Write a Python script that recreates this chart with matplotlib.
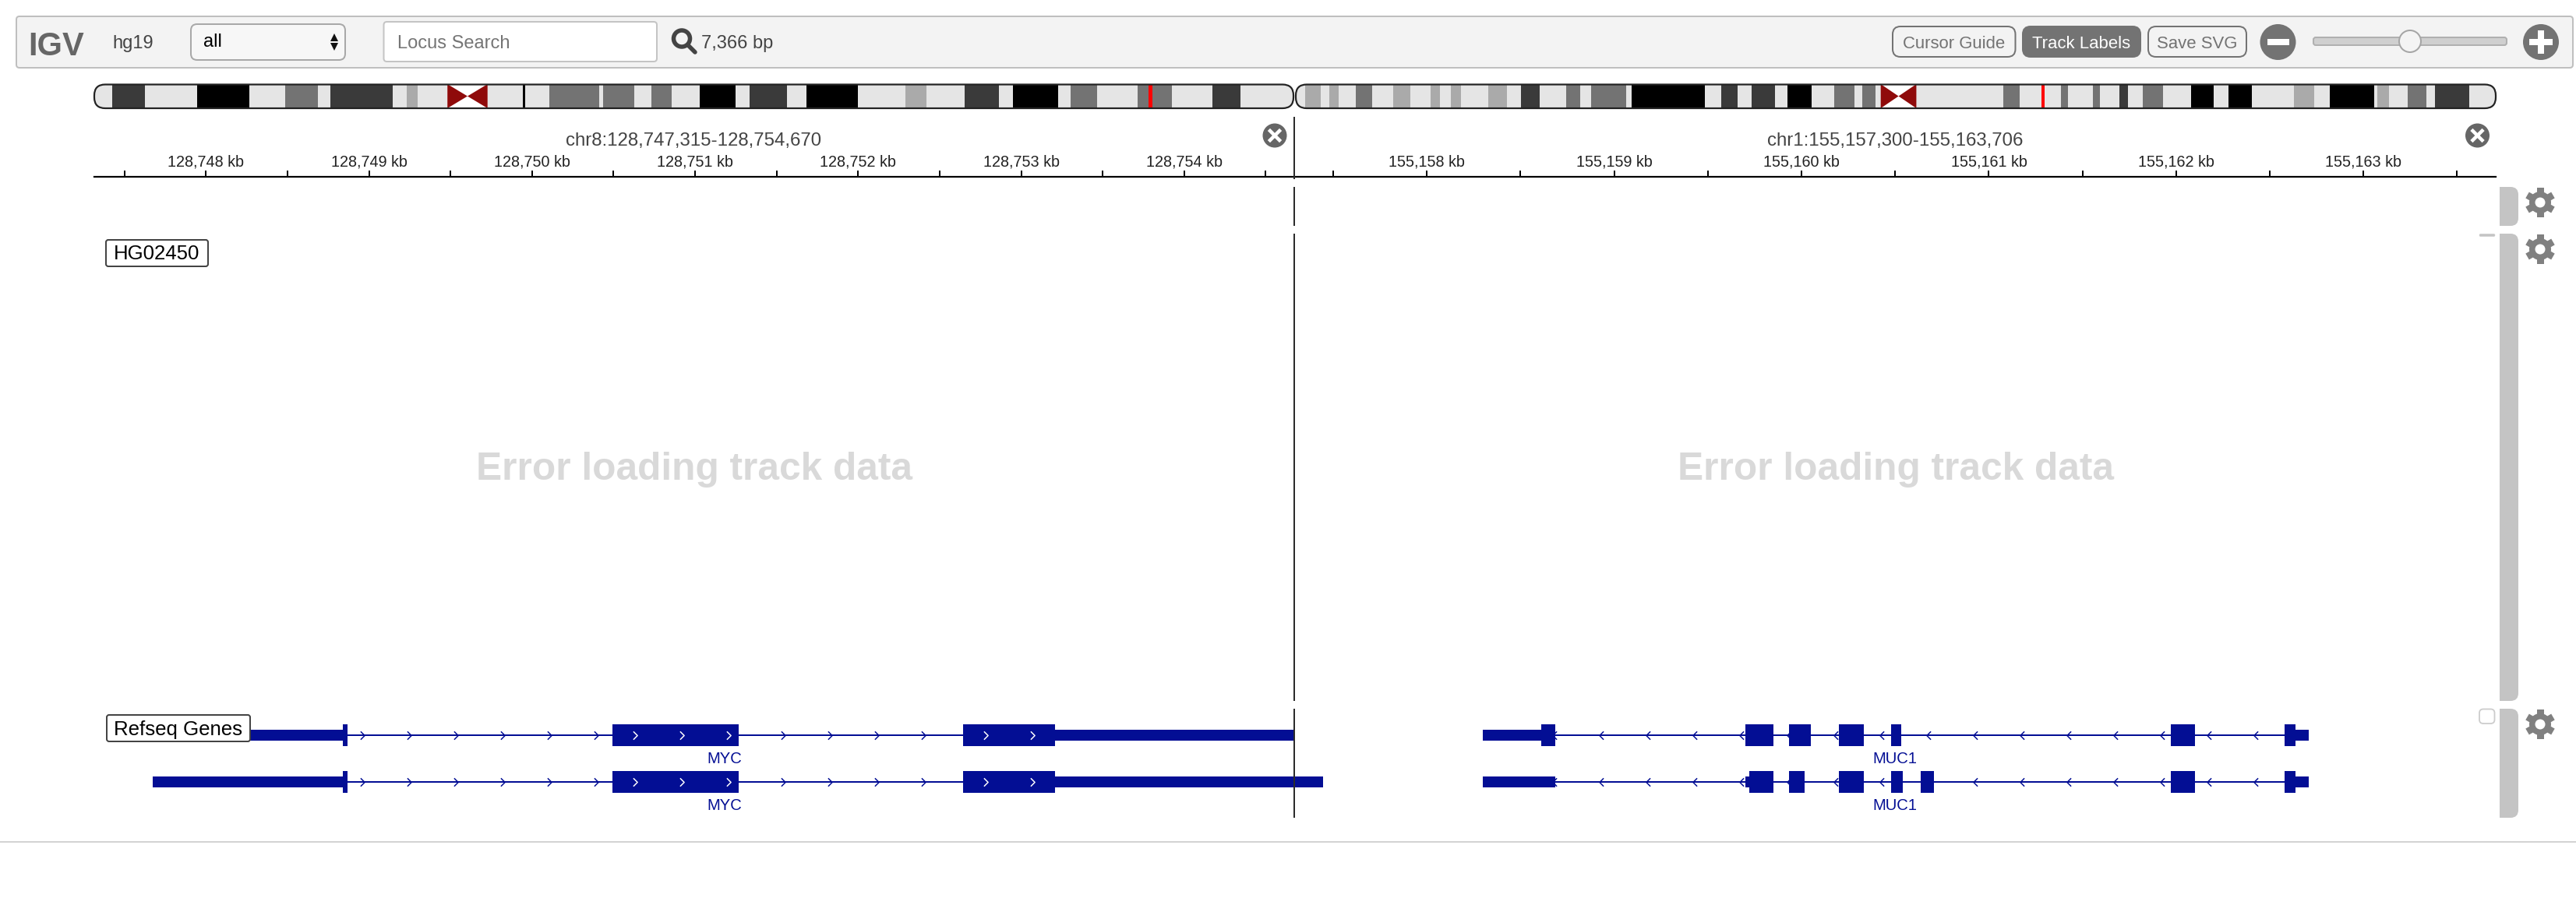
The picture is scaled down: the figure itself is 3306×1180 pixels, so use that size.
import matplotlib
matplotlib.use("Agg")

from matplotlib import pyplot as plt
from matplotlib.patches import Circle, FancyBboxPatch, Rectangle
from matplotlib.path import Path
from matplotlib.ticker import FuncFormatter, MultipleLocator
from matplotlib.transforms import Affine2D

plt.rcParams['font.family'] = ['Liberation Sans', 'DejaVu Sans']

W, H = 3306, 1180
PT = 0.72  # one pixel in points at dpi 100

BLUE = '#030e94'
STAIN_COLORS = {'gneg': '#e5e5e5', 'gpos25': '#aaaaaa', 'gpos50': '#737373',
                'gpos75': '#3a3a3a', 'gpos100': '#000000', 'acen': '#ffffff',
                'locus': '#ff0000'}

# ideogram bands, Mb
CHR8_ENDS = [2.2, 6.2, 12.6, 18.9, 23.3, 27.3, 28.8, 36.4, 38.1, 39.5, 43.1, 48.0,
             52.3, 52.6, 55.5, 61.6, 62.1, 65.9, 68.0, 70.5, 73.9, 78.3, 80.0, 84.5,
             86.9, 93.2, 99.0, 101.6, 106.2, 110.4, 112.1, 117.6, 119.2, 122.4,
             127.3, 128.7, 129.1, 131.5, 136.5, 139.9, 146.36]
CHR8_STAINS = ['gneg', 'gpos75', 'gneg', 'gpos100', 'gneg', 'gpos50', 'gneg', 'gpos75',
               'gneg', 'gpos25', 'gneg', 'acen', 'gneg', 'gpos100', 'gneg', 'gpos50',
               'gneg', 'gpos50', 'gneg', 'gpos50', 'gneg', 'gpos100', 'gneg', 'gpos75',
               'gneg', 'gpos100', 'gneg', 'gpos25', 'gneg', 'gpos75', 'gneg', 'gpos100',
               'gneg', 'gpos50', 'gneg', 'gpos50', 'locus', 'gpos50', 'gneg', 'gpos75',
               'gneg']
CHR1_ENDS = [2.0, 5.15, 7.0, 8.9, 12.4, 15.9, 20.25, 23.8, 28.0, 29.9, 32.2, 34.3, 40.0,
             43.9, 46.7, 50.7, 56.1, 59.1, 61.3, 68.7, 69.7, 84.96, 88.3, 91.8, 94.7,
             99.6, 102.1, 107.1, 111.8, 116.0, 117.6, 120.4, 121.5, 128.9, 147.0, 150.3,
             154.9, 155.6, 159.0, 160.4, 165.5, 167.1, 171.0, 172.9, 176.0, 180.2, 185.9,
             190.7, 193.7, 198.6, 207.3, 211.5, 214.7, 224.0, 224.7, 227.0, 230.9, 234.8,
             236.7, 243.8, 249.25]
CHR1_STAINS = ['gneg', 'gpos25', 'gneg', 'gpos25', 'gneg', 'gpos50', 'gneg', 'gpos25',
               'gneg', 'gpos25', 'gneg', 'gpos25', 'gneg', 'gpos25', 'gneg', 'gpos75',
               'gneg', 'gpos50', 'gneg', 'gpos50', 'gneg', 'gpos100', 'gneg', 'gpos75',
               'gneg', 'gpos75', 'gneg', 'gpos100', 'gneg', 'gpos50', 'gneg', 'gpos50',
               'gneg', 'acen', 'gneg', 'gpos50', 'gneg', 'locus', 'gneg', 'gpos50',
               'gneg', 'gpos50', 'gneg', 'gpos75', 'gneg', 'gpos50', 'gneg', 'gpos100',
               'gneg', 'gpos100', 'gneg', 'gpos25', 'gneg', 'gpos100', 'gneg', 'gpos25',
               'gneg', 'gpos50', 'gneg', 'gpos75', 'gneg']
CHR8_CEN = [43.1, 48.0]
CHR1_CEN = [121.5, 128.9]

# loci
CHR8_LOCUS = [128747315, 128754670]
CHR1_LOCUS = [155157300, 155163706]

# MYC transcripts
MYC_A_EXONS = [(128747900, 128748869), (128750494, 128751265), (128752642, 128754670)]
MYC_B_EXONS = [(128747673, 128748869), (128750494, 128751265), (128752642, 128754853)]
MYC_CDS = (128748840, 128753209)
MYC_INTRON_ARROWS = [128748959, 128749246, 128749533, 128749820, 128750107, 128750393,
                     128751538, 128751827, 128752114, 128752401]
MYC_EXON_ARROWS = [128750632, 128750919, 128751206, 128752781, 128753070]
MYC_LABEL_POS = 128751180

# MUC1 transcripts
MUC1_A_EXONS = [(155158300, 155158685), (155159700, 155159850), (155159933, 155160050),
                (155160199, 155160332), (155160480, 155160532), (155161971, 155162100),
                (155162579, 155162706)]
MUC1_A_CDS = (155158610, 155162637)
MUC1_B_EXONS = [(155158300, 155158685), (155159700, 155159850), (155159933, 155160016),
                (155160199, 155160332), (155160480, 155160540), (155160638, 155160707),
                (155161971, 155162100), (155162579, 155162706)]
MUC1_B_CDS = (155159723, 155162637)
MUC1_A_ARROWS = [155158681, 155158931, 155159180, 155159430, 155159679, 155159933,
                 155160183, 155160428, 155160678, 155160927, 155161177, 155161426,
                 155161676, 155161926, 155162175, 155162425]
MUC1_B_ARROWS = [155158681, 155158931, 155159180, 155159430, 155159679, 155159933,
                 155160183, 155160428, 155160927, 155161177, 155161426, 155161676,
                 155161926, 155162175, 155162425]
MUC1_LABEL_POS = 155160499

RIGHT_ARROW = Path([(-0.5, -1), (0.5, 0), (-0.5, 1)])
LEFT_ARROW = Path([(0.5, -1), (-0.5, 0), (0.5, 1)])

fig = plt.figure(figsize=(W / 100, H / 100), dpi=100)


def draw_transcript(ax, y, exons, cds, name, label_pos):
    ax.plot([exons[0][1], exons[-1][0]], [y, y], color=BLUE, lw=2 * PT, clip_on=False,
            solid_capstyle='butt', zorder=2)
    for start, end in exons:
        bars = ax.bar(start, 14, width=end - start, bottom=y - 7, align='edge',
                      color=BLUE, linewidth=0, zorder=3)
        bars[0].set_clip_on(False)
        tall_start, tall_end = max(start, cds[0]), min(end, cds[1])
        if tall_end > tall_start:
            tall = ax.bar(tall_start, 28, width=tall_end - tall_start, bottom=y - 14,
                          align='edge', color=BLUE, linewidth=0, zorder=3)
            tall[0].set_clip_on(False)
    ax.text(label_pos, y + 30.5, name, color=BLUE, fontsize=14.6, ha='center', va='center')


def draw_arrows(ax, y, positions, marker, color):
    ax.plot(positions, [y] * len(positions), ls='none', marker=marker, ms=7.5, mfc='none',
            mec=color, mew=1.5 * PT, zorder=4, clip_on=False)


def track_panel(x0, x1, locus):
    ax = fig.add_axes([x0 / W, 0, (x1 - x0) / W, (H - 226.7) / H], zorder=1)
    ax.set_xlim(*locus)
    ax.set_ylim(H, 226.7)
    ax.patch.set_alpha(0)
    for side in ('left', 'right', 'bottom'):
        ax.spines[side].set_visible(False)
    ax.spines['top'].set_linewidth(2.2 * PT)
    ax.set_yticks([])
    ax.xaxis.tick_top()
    ax.xaxis.set_major_locator(MultipleLocator(1000))
    ax.xaxis.set_minor_locator(MultipleLocator(500))
    ax.xaxis.set_major_formatter(FuncFormatter(lambda v, p: f"{int(round(v / 1000)):,} kb"))
    ax.tick_params(axis='x', which='both', direction='out', length=8 * PT, width=2 * PT)
    ax.tick_params(axis='x', which='major', labelsize=14.2, pad=1.2, labelcolor='#222222')
    return ax


def ideogram(x0, x1, ends, stains, cen, outline):
    ax = fig.add_axes([x0 / W, 1 - 139 / H, (x1 - x0) / W, 31 / H], zorder=1)
    ax.set_xlim(0, ends[-1])
    ax.set_ylim(0, 1)
    ax.axis('off')
    starts = [0] + ends[:-1]
    bars = ax.barh(0.5, [e - s for s, e in zip(starts, ends)], left=starts, height=1,
                   color=[STAIN_COLORS[s] for s in stains], linewidth=0)
    for bar in bars:
        bar.set_clip_path(outline)
    mid = (cen[0] + cen[1]) / 2
    ax.fill([cen[0], cen[0], mid], [0, 1, 0.5], color='#8f0a0a', linewidth=0)
    ax.fill([cen[1], cen[1], mid], [0, 1, 0.5], color='#8f0a0a', linewidth=0)


# overlay in pixel units for the browser controls
ui = fig.add_axes([0, 0, 1, 1], zorder=3)
ui.set_xlim(0, W)
ui.set_ylim(H, 0)
ui.axis('off')
ui.patch.set_alpha(0)


def rbox(x0, y0, x1, y1, r, fc, ec, lw=2.0, z=2):
    box = FancyBboxPatch((x0, y0), x1 - x0, y1 - y0, boxstyle=f"round,pad=0,rounding_size={r}",
                         fc=fc, ec=ec, lw=lw * PT, zorder=z)
    ui.add_patch(box)
    return box


def gear(x, y):
    ui.add_patch(Circle((x, y), 14, fc='#808080', ec='none', zorder=3))
    for a in range(6):
        t = Affine2D().rotate_deg_around(x, y, a * 60) + ui.transData
        ui.add_patch(Rectangle((x - 4.5, y - 19), 9, 10, fc='#808080', ec='none', transform=t, zorder=3))
    ui.add_patch(Circle((x, y), 6.5, fc='white', ec='none', zorder=4))


def close_icon(x, y):
    ui.add_patch(Circle((x, y), 15.5, fc='#666666', ec='none', zorder=3))
    ui.plot([x - 6, x + 6], [y - 6, y + 6], color='white', lw=4.5 * PT, zorder=4)
    ui.plot([x - 6, x + 6], [y + 6, y - 6], color='white', lw=4.5 * PT, zorder=4)


def scrollbar(y0, y1):
    rbox(3208, y0, 3232, y1, 10, '#c4c4c4', 'none', lw=0)
    ui.add_patch(Rectangle((3208, y0), 12, y1 - y0, fc='#c4c4c4', ec='none', zorder=2))


# toolbar
rbox(21, 21, 3302, 87, 4, '#f3f3f3', '#bfbfbf', z=1)
ui.text(36, 60, 'IGV', fontsize=30, fontweight='bold', color='#666666', va='center')
ui.text(144, 56, 'hg19', fontsize=17, color='#444444', va='center')
rbox(245, 31, 443, 77, 8, '#f7f7f7', '#a8a8a8')
ui.text(261, 54, 'all', fontsize=17, color='black', va='center', zorder=3)
ui.plot([428.5], [48], marker='^', ms=7.5, color='#111111', mew=0, zorder=3)
ui.plot([428.5], [60], marker='v', ms=7.5, color='#111111', mew=0, zorder=3)
rbox(492.5, 28, 843, 79, 4, 'white', '#c4c4c4')
ui.text(510, 56, 'Locus Search', fontsize=17, color='#757575', va='center', zorder=3)
ui.add_patch(Circle((875, 49.5), 10.5, fc='none', ec='#444444', lw=5.5 * PT, zorder=3))
ui.plot([883, 892], [58, 67], color='#444444', lw=5.5 * PT, solid_capstyle='round', zorder=3)
ui.text(900, 56, '7,366 bp', fontsize=17, color='#444444', va='center')

rbox(2429, 34, 2586.5, 73, 10, '#f3f3f3', '#737373')
ui.text(2508, 56, 'Cursor Guide', fontsize=15.9, color='#737373', ha='center', va='center', zorder=3)
rbox(2596, 34, 2747, 73, 10, '#737373', '#737373')
ui.text(2671.5, 56, 'Track Labels', fontsize=15.9, color='white', ha='center', va='center', zorder=3)
rbox(2757, 34, 2883, 73, 10, '#f3f3f3', '#737373')
ui.text(2820, 56, 'Save SVG', fontsize=15.9, color='#737373', ha='center', va='center', zorder=3)

ui.add_patch(Circle((2923.5, 54), 23, fc='#737373', ec='none', zorder=3))
ui.add_patch(Rectangle((2909.5, 50), 28, 8, fc='white', ec='none', zorder=4))
rbox(2969, 48, 3217, 58, 3, '#cfcfcf', '#b0b0b0')
ui.add_patch(Circle((3093, 53), 14, fc='#f4f4f4', ec='#a5a5a5', lw=2 * PT, zorder=3))
ui.add_patch(Circle((3261, 54), 23, fc='#737373', ec='none', zorder=3))
ui.add_patch(Rectangle((3246, 50), 30, 8, fc='white', ec='none', zorder=4))
ui.add_patch(Rectangle((3257, 39), 8, 30, fc='white', ec='none', zorder=4))

# ideograms
outline8 = rbox(121, 108.5, 1660, 139, 14, 'none', '#222222', lw=2.2, z=3)
outline1 = rbox(1663, 108.5, 3203, 139, 14, 'none', '#222222', lw=2.2, z=3)
ideogram(121, 1660, CHR8_ENDS, CHR8_STAINS, CHR8_CEN, outline8)
ideogram(1663, 3203, CHR1_ENDS, CHR1_STAINS, CHR1_CEN, outline1)

# locus panels
ax8 = track_panel(121, 1660, CHR8_LOCUS)
ax1 = track_panel(1663, 3203, CHR1_LOCUS)

ui.text(890, 181, 'chr8:128,747,315-128,754,670', fontsize=17.3, color='#444444', ha='center', va='center')
ui.text(2432, 181, 'chr1:155,157,300-155,163,706', fontsize=17.3, color='#444444', ha='center', va='center')
close_icon(1636, 174)
close_icon(3179.5, 174)

ui.text(891, 603, 'Error loading track data', fontsize=35.7, fontweight='bold', color='#d9d9d9', ha='center', va='center')
ui.text(2433, 603, 'Error loading track data', fontsize=35.7, fontweight='bold', color='#d9d9d9', ha='center', va='center')

# gene rows
ROW_A, ROW_B = 944.5, 1004.5
draw_transcript(ax8, ROW_A, MYC_A_EXONS, MYC_CDS, 'MYC', MYC_LABEL_POS)
draw_transcript(ax8, ROW_B, MYC_B_EXONS, MYC_CDS, 'MYC', MYC_LABEL_POS)
draw_transcript(ax1, ROW_A, MUC1_A_EXONS, MUC1_A_CDS, 'MUC1', MUC1_LABEL_POS)
draw_transcript(ax1, ROW_B, MUC1_B_EXONS, MUC1_B_CDS, 'MUC1', MUC1_LABEL_POS)
for row in (ROW_A, ROW_B):
    draw_arrows(ax8, row, MYC_INTRON_ARROWS, RIGHT_ARROW, BLUE)
    draw_arrows(ax8, row, MYC_EXON_ARROWS, RIGHT_ARROW, 'white')
draw_arrows(ax1, ROW_A, MUC1_A_ARROWS, LEFT_ARROW, BLUE)
draw_arrows(ax1, ROW_B, MUC1_B_ARROWS, LEFT_ARROW, BLUE)

# divider between the two loci
ui.vlines([1661] * 4, [150, 240, 300, 910], [230, 290, 900, 1050], color='#2b2b2b', lw=2 * PT, zorder=5)

# track name boxes
rbox(136, 308, 267, 342, 3, 'white', '#444444', z=6)
ui.text(201.5, 326, 'HG02450', fontsize=18.5, color='black', ha='center', va='center', zorder=7)
rbox(137, 918, 321, 952, 3, 'white', '#444444', z=6)
ui.text(229, 937, 'Refseq Genes', fontsize=18.6, color='black', ha='center', va='center', zorder=7)

# right hand controls
scrollbar(240, 290)
scrollbar(300, 900)
scrollbar(910, 1050)
gear(3260, 260)
gear(3260, 320)
gear(3260, 930)
rbox(3182, 300.5, 3202, 303.5, 1.5, '#c4c4c4', '#c4c4c4', lw=0.5)
rbox(3182, 910.5, 3201.5, 929, 5, 'white', '#cccccc', lw=1.8)

ui.plot([0, W], [1081, 1081], color='#d3d3d3', lw=2 * PT, zorder=1)

fig.savefig('out.png', dpi=100)
